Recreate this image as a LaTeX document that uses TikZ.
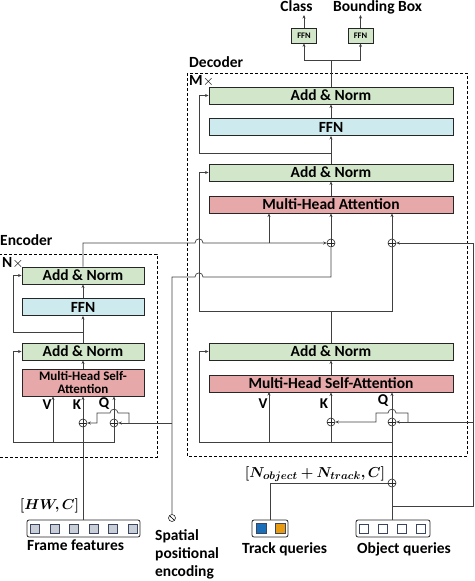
\documentclass[tikz,border=0pt]{standalone}
\usepackage{fontspec}
\setmainfont{Carlito}
\usepackage{bm}
\usetikzlibrary{arrows.meta}
\definecolor{addgreen}{HTML}{D2E7CA}
\definecolor{ffncyan}{HTML}{CDEBEE}
\definecolor{attnpink}{HTML}{E6A8A8}
\definecolor{sqgray}{HTML}{C9CDD6}
\definecolor{sqedge}{HTML}{3A4560}
\definecolor{tqblue}{HTML}{1A6FB8}
\definecolor{tqorange}{HTML}{E89B10}
\tikzset{
 lbl/.style={font=\fontsize{15.5}{18}\selectfont\bfseries, inner sep=0pt, text height=10pt, text depth=3pt},
 mult/.style={font=\fontsize{15.5}{18}\selectfont\bfseries, inner sep=0pt, text height=9pt, text depth=0pt},
 vk/.style={font=\fontsize{15}{16}\selectfont\bfseries, inner sep=0pt},
 blk/.style={draw=black!85, line width=0.9pt, inner sep=0pt, font=\fontsize{15.5}{17}\selectfont\bfseries, minimum height=17pt},
 encblk/.style={blk, minimum width=122pt},
 decblk/.style={blk, minimum width=244pt},
 addnorm/.style={fill=addgreen},
 ffnfill/.style={fill=ffncyan},
 attnfill/.style={fill=attnpink},
 smallffn/.style={draw=black!85, line width=0.8pt, fill=addgreen, inner sep=0pt, minimum width=25pt, minimum height=15pt, font=\fontsize{8.5}{9}\selectfont\bfseries},
 opl/.style={circle, draw=black!85, line width=0.6pt, minimum size=8pt, inner sep=0pt, fill=white,
   path picture={\draw[line width=0.6pt] (path picture bounding box.north) -- (path picture bounding box.south) (path picture bounding box.west) -- (path picture bounding box.east);}},
 ln/.style={draw=black!75, line width=0.7pt},
 ar/.style={ln, -{Stealth[length=3.5pt,width=3pt]}},
 dbox/.style={draw=black, line width=0.9pt, dash pattern=on 3pt off 2pt},
 inbox/.style={draw=black!85, line width=0.8pt, rounded corners=2pt, fill=white, minimum height=17pt, inner sep=0pt},
}
\begin{document}
\begin{tikzpicture}[x=1pt,y=-1pt]
\useasboundingbox (0,0) rectangle (474,581);

% dashed frames
\draw[dbox] (-2,254) rectangle (157,457);
\draw[dbox] (187,73) rectangle (467,456);
\node[lbl, anchor=west] (enclbl) at (0,242) {Encoder};
\node[mult, anchor=west] (nx) at (2,263) {N$\times$};
\node[lbl, anchor=west] (declbl) at (189,63.5) {Decoder};
\node[mult, anchor=west] (mx) at (189,80.5) {M$\times$};

% encoder blocks
\node[encblk, addnorm] (eAN2) at (83,275.5) {Add \& Norm};
\node[encblk, ffnfill] (eFFN) at (83,307) {FFN};
\node[encblk, addnorm] (eAN1) at (83,351.5) {Add \& Norm};
\node[encblk, attnfill, minimum height=27pt, align=center, font=\fontsize{13}{13.5}\selectfont\bfseries] (eMHSA) at (83,382.5) {Multi-Head Self-\\Attention};
\node[opl] (eplusK) at (83,423) {};
\node[opl] (eplusQ) at (114,423) {};
\node[vk] (eVl) at (47,405) {V};
\node[vk] (eKl) at (77,405) {K};
\node[vk] (eQl) at (104,404) {Q};

% decoder blocks
\node[decblk, addnorm] (dAN3) at (331,95.5) {Add \& Norm};
\node[decblk, ffnfill] (dFFN) at (331,127) {FFN};
\node[decblk, addnorm] (dAN2) at (331,172.5) {Add \& Norm};
\node[decblk, attnfill] (dMHA) at (331,204.5) {Multi-Head Attention};
\node[decblk, addnorm] (dAN1) at (331,351.5) {Add \& Norm};
\node[decblk, attnfill] (dMHSA) at (331,383.5) {Multi-Head Self-Attention};
\node[opl] (dplusK1) at (331,243) {};
\node[opl] (dplusQ1) at (392,243) {};
\node[opl] (dplusK2) at (331,422) {};
\node[opl] (dplusQ2) at (392,422) {};
\node[opl] (inp) at (392,483) {};
\node[vk] (dVl) at (263,404) {V};
\node[vk] (dKl) at (324,404) {K};
\node[vk] (dQl) at (383,401) {Q};

% heads
\node[smallffn] (ffnA) at (304,35.5) {FFN};
\node[smallffn] (ffnB) at (360.5,35.5) {FFN};
\node[lbl] (cls) at (296.5,8) {Class};
\node[lbl] (bbox) at (377.5,8) {Bounding Box};

% inputs
\node[inbox, minimum width=113pt] (ff) at (83.5,528.5) {};
\foreach \cx in {35,54.5,74,93.5,113,132.5}
  \draw[draw=sqedge, line width=0.7pt, fill=sqgray] (\cx-4.5,524) rectangle (\cx+4.5,533);
\node[inbox, minimum width=36pt] (tq) at (270,528.5) {};
\draw[draw=sqedge, line width=0.7pt, fill=tqblue] (256,523.5) rectangle (266,533.5);
\draw[draw=sqedge, line width=0.7pt, fill=tqorange] (275.5,523.5) rectangle (285.5,533.5);
\node[inbox, minimum width=74pt] (oq) at (393,528.5) {};
\foreach \cx in {364,383,402,421}
  \draw[draw=sqedge, line width=0.7pt, fill=white] (\cx-4.5,524) rectangle (\cx+4.5,533);
\node[circle, draw=black!85, line width=0.6pt, minimum size=7pt, inner sep=0pt] (sp) at (172,518) {};
\draw[line width=0.6pt] (169.8,516) -- (174.2,520);

\node[font=\fontsize{15.5}{17}\selectfont, inner sep=0pt] (hwc) at (49.5,506) {$\bm{[HW,C]}$};
\node[font=\fontsize{15.5}{17}\selectfont, inner sep=0pt] (nnc) at (315,474) {$\bm{[N_{object}+N_{track},C]}$};
\node[lbl, anchor=west] (fftxt) at (27,547) {Frame features};
\node[lbl, anchor=west] (sp1) at (155,537) {Spatial};
\node[lbl, anchor=west] (sp2) at (155,555) {positional};
\node[lbl, anchor=west] (sp3) at (155,573) {encoding};
\node[lbl, anchor=west] (tqtxt) at (242,550) {Track queries};
\node[lbl, anchor=west] (oqtxt) at (357,550) {Object queries};

% ---------- encoder connectors
\draw[ln] (ff.north -| eplusK) -- (eplusK.south);
\draw[ar] (eplusK.north) -- (eplusK |- eMHSA.south);
\coordinate (eL) at (13,442);
\coordinate (eV) at (53,442);
\coordinate (eQb) at (114,442);
\draw[ln] (eL) -- (eQb) -- (eplusQ.south);
\draw[ar] (eplusQ.north) -- (eplusQ |- eMHSA.south);
\draw[ar] (eV) -- (eV |- eMHSA.south);
\draw[ar] (eL) |- (eAN1.west);
\draw[ar] (eMHSA.north) -- (eAN1.south);
\draw[ar] (eAN1.north) -- (eFFN.south);
\coordinate (ejr) at (83,332);
\draw[ar] (ejr) -- (13,332) |- (eAN2.west);
\draw[ar] (eFFN.north) -- (eAN2.south);
\draw[ar] (eAN2.north) -- (83,243) -- (195,243) .. controls (195,237.5) and (203,237.5) .. (203,243) -- (dplusK1.west);
\coordinate (dV1) at (269,243);
\draw[ar] (dV1) -- (dV1 |- dMHA.south);

% positional encoding
\draw[ln] (sp.north) -- (172,277) -- (195,277) .. controls (195,271.5) and (203,271.5) .. (203,277) -- (331,277) -- (dplusK1.south);
\draw[ar] (172,423) -- (eplusQ.east);
\draw[ar] (129,423) -- (129,413) -- (118,413) .. controls (118,408) and (110,408) .. (110,413) -- (97,413) -- (97,423) -- (eplusK.east);

% ---------- decoder connectors
\draw[ar] (dMHSA.north) -- (dAN1.south);
\draw[ln] (dAN1.north) -- (331,311);
\draw[ln] (199,311) -- (392,311) -- (dplusQ1.south);
\draw[ar] (199,311) |- (dAN2.west);
\draw[ar] (dplusK1.north) -- (dplusK1 |- dMHA.south);
\draw[ar] (dplusQ1.north) -- (dplusQ1 |- dMHA.south);
\draw[ar] (dMHA.north) -- (dAN2.south);
\draw[ar] (dAN2.north) -- (dFFN.south);
\draw[ar] (331,153) -- (199,153) |- (dAN3.west);
\draw[ar] (dFFN.north) -- (dAN3.south);
\draw[ln] (dAN3.north) -- (331,60);
\draw[ln] (304,60) -- (360.5,60);
\draw[ar] (304,60) -- (ffnA.south);
\draw[ar] (360.5,60) -- (ffnB.south);
\draw[ar] (ffnA.north) -- (304,15);
\draw[ar] (ffnB.north) -- (360.5,15);

% decoder inputs
\draw[ln] (oq.north -| inp) -- (inp.south);
\draw[ln] (tq.north) |- (inp.west);
\draw[ln] (inp.north) -- (dplusQ2.south);
\draw[ln] (199,442) -- (392,442);
\draw[ar] (199,442) |- (dAN1.west);
\draw[ar] (269,442) -- (269,392);
\draw[ln] (331,442) -- (dplusK2.south);
\draw[ar] (dplusK2.north) -- (dplusK2 |- dMHSA.south);
\draw[ar] (dplusQ2.north) -- (dplusQ2 |- dMHSA.south);
\draw[ln] (392,506) -- (473,506) -- (473,243);
\draw[ar] (473,243) -- (dplusQ1.east);
\draw[ar] (473,422) -- (dplusQ2.east);
\draw[ar] (408,422) -- (408,413) -- (396,413) .. controls (396,408) and (388,408) .. (388,413) -- (376,413) -- (376,422) -- (dplusK2.east);
\end{tikzpicture}
\end{document}
